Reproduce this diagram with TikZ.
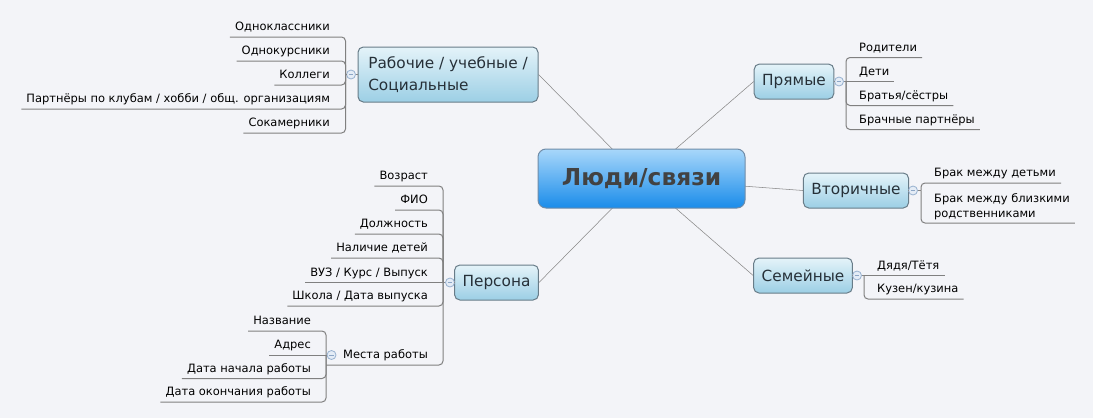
\documentclass[tikz,border=0pt]{standalone}
\usepackage{fontspec}
\setmainfont{DejaVu Sans}
\usetikzlibrary{backgrounds}

\tikzset{every picture/.style={line width=0.75pt}}
\tikzset{
  mainbox/.style={draw={rgb, 255:red, 112; green, 140; blue, 168 }, rounded corners=6pt, top color={rgb, 255:red, 168; green, 215; blue, 250 }, bottom color={rgb, 255:red, 26; green, 140; blue, 234 }, minimum width=155.25pt, minimum height=44.25pt, font=\fontsize{17.5}{21}\selectfont\bfseries, text={rgb, 255:red, 66; green, 66; blue, 66 }},
  topicbox/.style={draw={rgb, 255:red, 104; green, 124; blue, 136 }, rounded corners=4pt, top color={rgb, 255:red, 228; green, 243; blue, 249 }, bottom color={rgb, 255:red, 156; green, 207; blue, 229 }, minimum height=26.25pt, inner xsep=6pt, font=\fontsize{11.5}{16.5}\selectfont, text={rgb, 255:red, 38; green, 48; blue, 56 }},
  leaf/.style={inner xsep=3.5pt, inner ysep=2.25pt, text height=6.75pt, text depth=2.25pt, font=\fontsize{8.6}{11.25}\selectfont},
  link/.style={draw={rgb, 255:red, 136; green, 136; blue, 136 }},
  branch/.style={draw={rgb, 255:red, 128; green, 128; blue, 128 }, rounded corners=3pt},
  fold/.style={circle, draw={rgb, 255:red, 152; green, 178; blue, 208 }, fill={rgb, 255:red, 228; green, 236; blue, 246 }, minimum size=6.75pt, inner sep=0pt, line width=0.6pt, path picture={\draw[color={rgb, 255:red, 140; green, 166; blue, 198 }, line width=0.6pt] ([xshift=-1.8pt]path picture bounding box.center) -- ([xshift=1.8pt]path picture bounding box.center);}}
}

\begin{document}
\begin{tikzpicture}[x=0.75pt,y=0.75pt,yscale=-1,xscale=1]

	% Main topic
	\node[mainbox] (main) at (641.5,178.5) {Люди/связи};

	% Topics
	\node[topicbox, minimum width=135pt, minimum height=41.25pt, align=left] (work) at (448,74.5) {Рабочие / учебные /\\Социальные};
	\node[topicbox, minimum width=57pt] (direct) at (794,81.5) {Прямые};
	\node[topicbox, minimum width=76.5pt] (second) at (856,190.5) {Вторичные};
	\node[topicbox, minimum width=70.5pt] (family) at (803,275.5) {Семейные};
	\node[topicbox, minimum width=60.75pt] (person) at (496.5,282.5) {Персона};

	% Fold markers and trunks
	\node[fold] (work-m) at (351,74.5) {};
	\coordinate (work-t) at (345.5,74.5);
	\node[fold] (direct-m) at (839,81.5) {};
	\coordinate (direct-t) at (846,81.5);
	\node[fold] (second-m) at (913,190.5) {};
	\coordinate (second-t) at (921,190.5);
	\node[fold] (family-m) at (857,275.5) {};
	\coordinate (family-t) at (864,275.5);
	\node[fold] (person-m) at (450,282.5) {};
	\coordinate (person-t) at (443,282.5);

	% Text Node -- work
	\node[leaf, anchor=south east] (w1) at (335,37) {Одноклассники};
	\node[leaf, anchor=south east] (w2) at (335,61) {Однокурсники};
	\node[leaf, anchor=south east] (w3) at (335,85) {Коллеги};
	\node[leaf, anchor=south east] (w4) at (335,109) {Партнёры по клубам / хобби / общ. организациям};
	\node[leaf, anchor=south east] (w5) at (335,133) {Сокамерники};

	% Text Node -- direct
	\node[leaf, anchor=south west] (d1) at (854,57.5) {Родители};
	\node[leaf, anchor=south west] (d2) at (854,81.5) {Дети};
	\node[leaf, anchor=south west] (d3) at (854,105.5) {Братья/сёстры};
	\node[leaf, anchor=south west] (d4) at (854,129.5) {Брачные партнёры};

	% Text Node -- secondary
	\node[leaf, anchor=south west] (s1) at (929,183) {Брак между детьми};
	\node[leaf, anchor=south west, text height=, text depth=, align=left] (s2) at (929,223) {Брак между близкими\\родственниками};

	% Text Node -- family
	\node[leaf, anchor=south west] (f1) at (872,275.5) {Дядя/Тётя};
	\node[leaf, anchor=south west] (f2) at (872,299) {Кузен/кузина};

	% Text Node -- person
	\node[leaf, anchor=south east] (p1) at (433,186) {Возраст};
	\node[leaf, anchor=south east] (p2) at (433,210) {ФИО};
	\node[leaf, anchor=south east] (p3) at (433,234) {Должность};
	\node[leaf, anchor=south east] (p4) at (433,258) {Наличие детей};
	\node[leaf, anchor=south east] (p5) at (433,282.5) {ВУЗ / Курс / Выпуск};
	\node[leaf, anchor=south east] (p6) at (433,306) {Школа / Дата выпуска};
	\node[leaf, anchor=south east] (p7) at (433,365) {Места работы};

	% Text Node -- places of work
	\node[fold] (p7-m) at (331.5,355) {};
	\coordinate (p7-t) at (326,355);
	\node[leaf, anchor=south east] (q1) at (316,331) {Название};
	\node[leaf, anchor=south east] (q2) at (316,355) {Адрес};
	\node[leaf, anchor=south east] (q3) at (316,378.5) {Дата начала работы};
	\node[leaf, anchor=south east] (q4) at (316,402) {Дата окончания работы};

	\begin{scope}[on background layer]
	%Shape: Rectangle
	\fill[fill={rgb, 255:red, 243; green, 244; blue, 248 }] (0,0) rectangle (1093,418);
	%Straight Lines
	\draw[link] (main.center) -- (work.east);
	\draw[link] (main.center) -- (direct.west);
	\draw[link] (main.center) -- (second.west);
	\draw[link] (main.center) -- (family.west);
	\draw[link] (main.center) -- (person.east);
	\end{scope}

	%Straight Lines -- markers
	\draw[link] (work.west) -- (work-m) -- (work-t);
	\draw[link] (direct.east) -- (direct-m) -- (direct-t);
	\draw[link] (second.east) -- (second-m) -- (second-t);
	\draw[link] (family.east) -- (family-m) -- (family-t);
	\draw[link] (person.west) -- (person-m) -- (person-t);
	\draw[link] (p7-m) -- (p7-t);

	%Elbow Lines
	\foreach \n in {w1,w2,w3,w4,w5} \draw[branch] (work-t) |- (\n.south west);
	\foreach \n in {d1,d3,d4} \draw[branch] (direct-t) |- (\n.south east);
	\draw[branch] (direct-t) -- (d2.south east);
	\foreach \n in {s1,s2} \draw[branch] (second-t) |- (\n.south east);
	\draw[branch] (family-t) -- (f1.south east);
	\draw[branch] (family-t) |- (f2.south east);
	\foreach \n in {p1,p2,p3,p4,p6} \draw[branch] (person-t) |- (\n.south west);
	\draw[branch] (person-t) -- (p5.south west);
	\draw[branch] (person-t) |- (p7-t |- p7.south);
	\foreach \n in {q1,q3,q4} \draw[branch] (p7-t) |- (\n.south west);
	\draw[branch] (p7-t) -- (q2.south west);

\end{tikzpicture}
\end{document}
